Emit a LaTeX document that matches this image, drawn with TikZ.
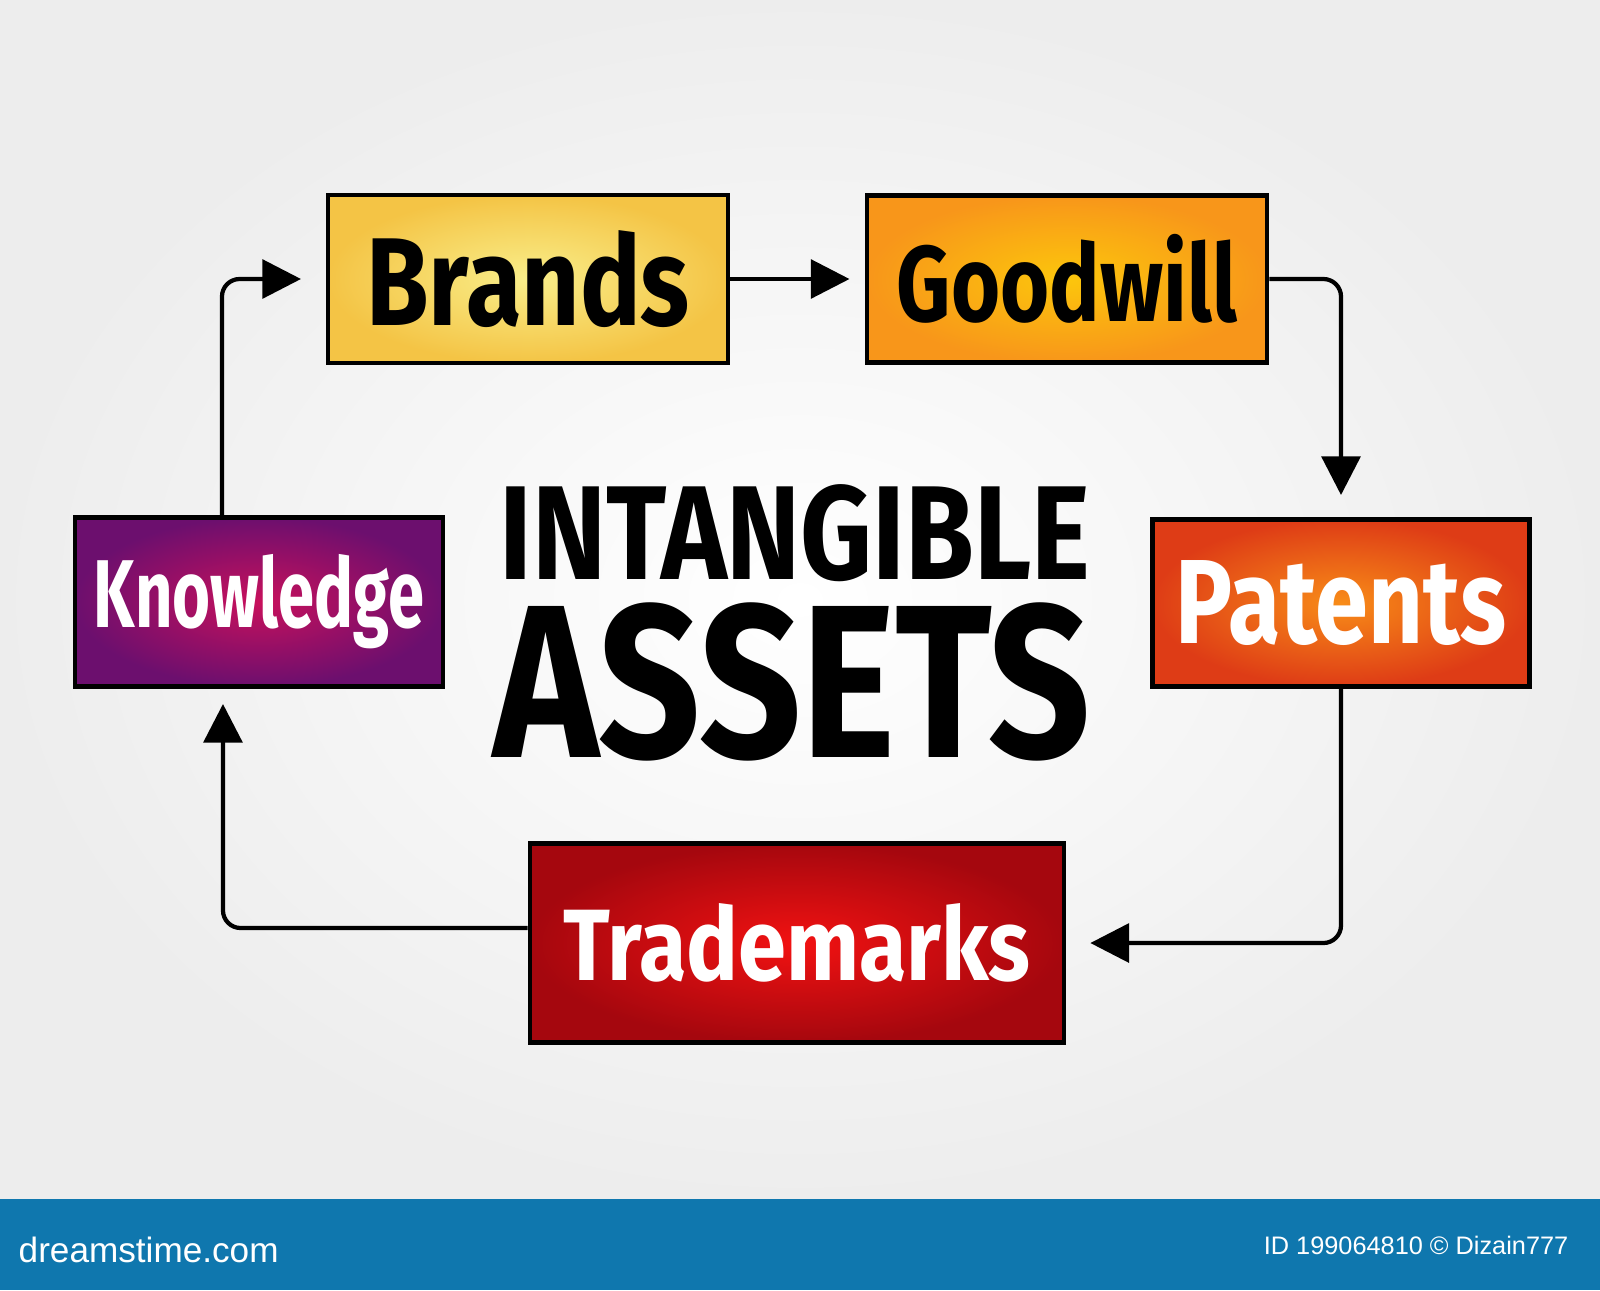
\documentclass[tikz,border=0pt]{standalone}
\usepackage{fontspec}
\setmainfont{Fira Sans}
\newfontfamily\barfont{Liberation Sans}
\usetikzlibrary{arrows.meta}

\definecolor{brandIn}{HTML}{F9EE8A}
\definecolor{brandOut}{HTML}{F4C445}
\definecolor{goodIn}{HTML}{FCC60C}
\definecolor{goodOut}{HTML}{F8961A}
\definecolor{patIn}{HTML}{F88C18}
\definecolor{patOut}{HTML}{DE3C16}
\definecolor{tradeIn}{HTML}{F21212}
\definecolor{tradeOut}{HTML}{A5070E}
\definecolor{knowIn}{HTML}{C8105C}
\definecolor{knowOut}{HTML}{6C0F6E}
\definecolor{barblue}{HTML}{0F77AE}

% squeeze a word into a given width and height
\newcommand{\fitword}[3]{\resizebox{#1}{#2}{#3}}

\tikzset{
    box/.style={draw=black, line width=1.3pt, inner sep=0pt},
    flow/.style={line width=1.2pt, rounded corners=5pt,
        -{Triangle[length=11pt,width=11pt]}},
}

\begin{document}
\begin{tikzpicture}[x=0.01cm, y=-0.01cm]
        \useasboundingbox (0,0) rectangle (1600,1290);

        % Background and bottom bar
        \shade[inner color=white, outer color=black!7] (0,0) rectangle (1600,1199);
        \fill[barblue] (0,1199) rectangle (1600,1290);

        % Boxes clockwise from top left
        \node[box, inner color=brandIn, outer color=brandOut,
              minimum width=4cm, minimum height=1.68cm] (brands) at (528,279)
              {\fitword{92pt}{27pt}{\bfseries Brands}};
        \node[box, inner color=goodIn, outer color=goodOut,
              minimum width=4cm, minimum height=1.67cm] (good) at (1067,279)
              {\fitword{96.7pt}{24.8pt}{\bfseries Goodwill}};
        \node[box, inner color=patIn, outer color=patOut, text=white,
              minimum width=3.77cm, minimum height=1.67cm] (pat) at (1341,603)
              {\fitword{93.9pt}{23.6pt}{\bfseries Patents}};
        \node[box, inner color=tradeIn, outer color=tradeOut, text=white,
              minimum width=5.34cm, minimum height=1.99cm] (trade) at (797,943)
              {\fitword{132.9pt}{21.9pt}{\bfseries Trademarks}};
        \node[box, inner color=knowIn, outer color=knowOut, text=white,
              minimum width=3.68cm, minimum height=1.69cm] (know) at (259,602)
              {\fitword{93.9pt}{20.8pt}{\bfseries Knowledge}};

        % Title
        \node[inner sep=0pt] (title1) at (795,533) {\fitword{168pt}{27pt}{\bfseries INTANGIBLE}};
        \node[inner sep=0pt] (title2) at (792,682) {\fitword{170pt}{44pt}{\bfseries ASSETS}};

        % Connectors
        \draw[flow, shorten >=7pt] ([xshift=-0.37cm]know.north) |- (brands.west);
        \draw[flow, shorten >=4.3pt] (brands.east) -- (good.west);
        \draw[flow, shorten >=6.3pt] (good.east) -| (pat.north);
        \draw[flow, shorten >=6.8pt] (pat.south) |- (trade.east);
        \draw[flow, shorten >=4.3pt] ([yshift=0.15cm]trade.west) -| ([xshift=-0.36cm]know.south);

        % Bar texts
        \node[anchor=base west, text=white, inner sep=0pt,
              font=\barfont\fontsize{10}{12}\selectfont] (site) at (18,1262) {dreamstime.com};
        \node[anchor=base east, text=white, inner sep=0pt,
              font=\barfont\fontsize{7.2}{9}\selectfont] (imgid) at (1569,1254) {ID 199064810 © Dizain777};
\end{tikzpicture}
\end{document}
